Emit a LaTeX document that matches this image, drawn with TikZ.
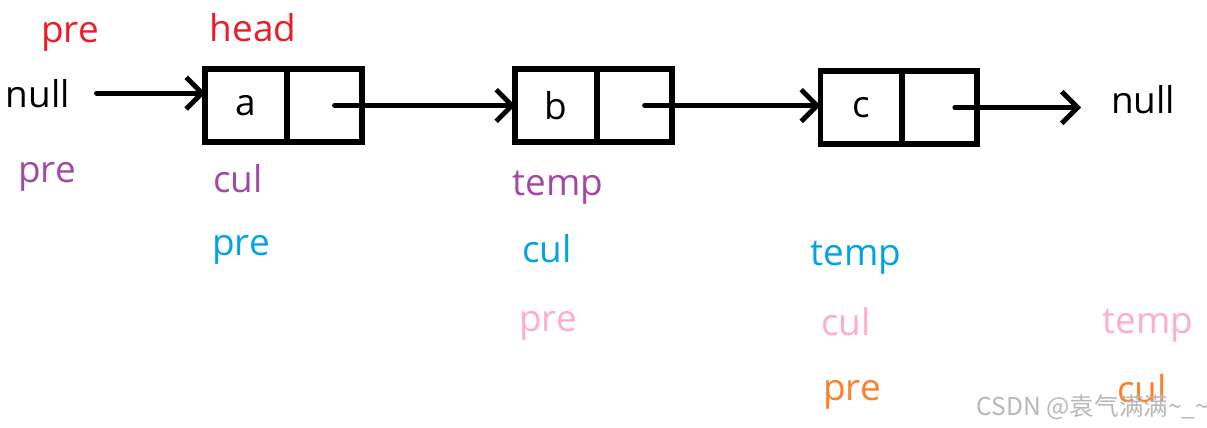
\documentclass[tikz,border=0pt]{standalone}
\usepackage{fontspec}
\setmainfont{Open Sans}
\newfontfamily\cjkfont{Noto Sans CJK SC}
\usepackage{xcolor}
\usepackage{tikz}
\usetikzlibrary{arrows.meta, positioning, calc}
\definecolor{pred}{RGB}{237,28,36}
\definecolor{ppurple}{RGB}{163,73,164}
\definecolor{pblue}{RGB}{0,162,232}
\definecolor{ppink}{RGB}{255,174,201}
\definecolor{porange}{RGB}{255,127,39}

\begin{document}
\begin{tikzpicture}[x=0.01cm, y=-0.01cm,
  every node/.style={font=\fontsize{10.5}{12}\selectfont},
  cell/.style={draw, line width=1.7pt, minimum height=0.73cm, inner sep=0pt, outer sep=0pt},
  datacell/.style={cell, minimum width=0.81cm},
  ptrcell/.style={cell, minimum width=0.75cm},
  link/.style={line width=1.4pt, line cap=round, -{Straight Barb[length=4.5pt,width=9pt]}},
  lbl/.style={anchor=base}]
\useasboundingbox (0,0) rectangle (1207,427);
% List nodes
\node[datacell] (a) at (246,105.5) {a};
\node[ptrcell, right=0pt of a] (ap) {};
\node[datacell] (b) at (556,105.5) {b};
\node[ptrcell, right=0pt of b] (bp) {};
\node[datacell] (c) at (861,107.5) {c};
\node[ptrcell, right=0pt of c] (cp) {};
% Ends
\node[lbl] (nullL) at (38,107) {null};
\node[lbl] (nullR) at (1143,113) {null};
% Links
\draw[link, shorten <=4pt] (nullL) -- (nullL -| a.west);
\draw[link] ([xshift=3pt]ap.center) -- (b.west);
\draw[link] ([xshift=3pt]bp.center) -- (bp.center -| c.west);
\draw[link, shorten >=5pt] ([xshift=4.5pt]cp.center) -- (cp.center -| nullR.west);
% Step labels
\node[lbl, text=pred] (preA) at (70,42) {pre};
\node[lbl, text=pred] (headA) at (253,41) {head};
\node[lbl, text=ppurple] (preB) at (47,182) {pre};
\node[lbl, text=ppurple] (culB) at (238,192) {cul};
\node[lbl, text=ppurple] (tempB) at (558,195) {temp};
\node[lbl, text=pblue] (preC) at (241,255) {pre};
\node[lbl, text=pblue] (culC) at (547,262) {cul};
\node[lbl, text=pblue] (tempC) at (856,265) {temp};
\node[lbl, text=ppink] (preD) at (548,331) {pre};
\node[lbl, text=ppink] (culD) at (846,335) {cul};
\node[lbl, text=ppink] (tempD) at (1148,333) {temp};
\node[lbl, text=porange] (preE) at (852,400) {pre};
\node[lbl, text=porange] (culE) at (1142,402) {cul};
% Watermark
\node[lbl, text=black!28, font=\cjkfont\fontsize{7}{8}\selectfont] (mark) at (1093,415) {CSDN @袁气满满\textasciitilde\_\textasciitilde};
\end{tikzpicture}
\end{document}
